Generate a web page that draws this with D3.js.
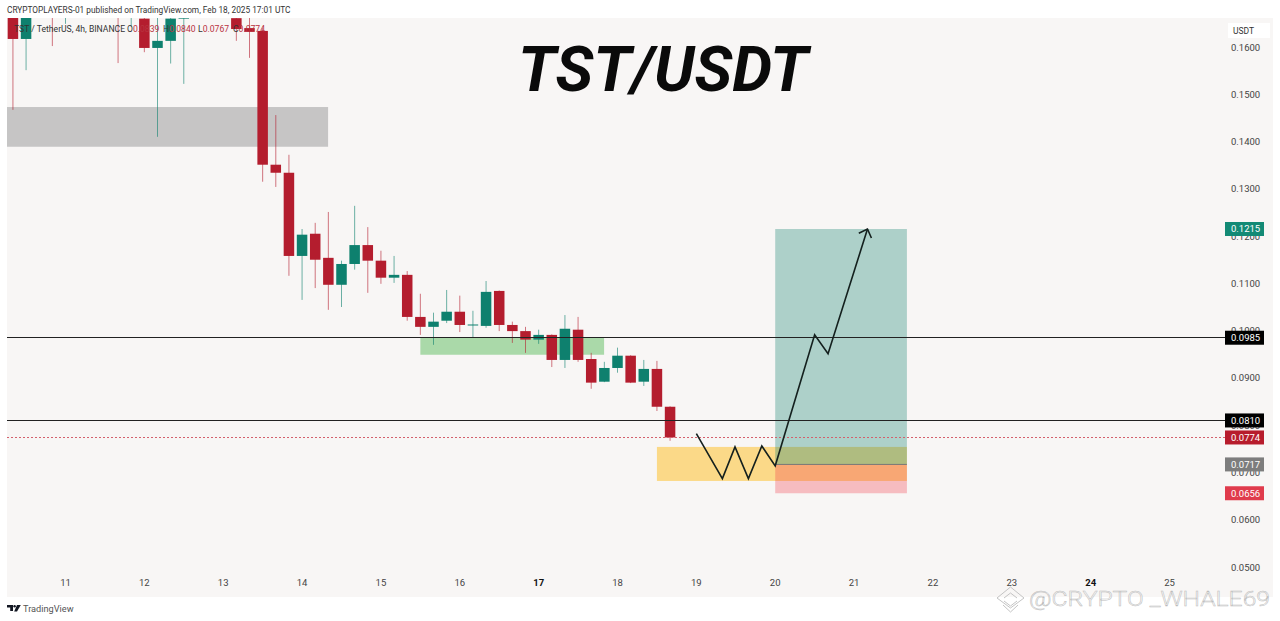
<!DOCTYPE html>
<html lang="en">
    <head>
        <meta charset="utf-8">
        <title>TST/USDT</title>
        <script type="text/javascript" src="https://d3js.org/d3.v7.min.js"></script>
        <style type="text/css">
            html, body { margin: 0; padding: 0; background: #fff; overflow: hidden; }
            text { font-family: Roboto, "Liberation Sans", sans-serif; }
        </style>
    </head>
    <body>
        <div id="chart"></div>
        <script type="text/javascript">

            // 4h candles, first candle is day 10 08:00
            // the ones above the visible pane only have rough values
            var firstCandleDay = 10 + 1/3;
            var opens  = [.1700,.1617,.1690,.1690,.1680,.1700,.1700,.1700,.1700,.1690,.1660,.1598,.1613,.1660,.1700,.1700,.1700,
                          .1661,.1640,.1634,.1351,.1334,.1158,.1205,.1154,.1097,.1141,.1181,.1148,.1112,.1118,.1029,.1008,.1021,
                          .1040,.1012,.1010,.1084,.1012,.0999,.0981,.0991,.0938,.1002,.0940,.0892,.0921,.0947,.0892,.0919,.0839];
            var closes = [.1617,.1680,.1700,.1680,.1700,.1700,.1700,.1700,.1690,.1700,.1598,.1613,.1660,.1700,.1700,.1700,.1700,
                          .1638,.1632,.1351,.1334,.1158,.1203,.1150,.1097,.1141,.1181,.1148,.1112,.1118,.1029,.1008,.1019,.1040,
                          .1012,.1013,.1082,.1012,.0999,.0981,.0991,.0938,.1004,.0938,.0890,.0921,.0947,.0890,.0919,.0839,.0774];
            var highs  = [.1720,.1700,.1720,.1700,.1710,.1720,.1720,.1720,.1720,.1710,.1680,.1670,.1680,.1700,.1720,.1720,.1720,
                          .1670,.1665,.1640,.1456,.1372,.1215,.1228,.1251,.1148,.1264,.1219,.1169,.1158,.1126,.1078,.1038,.1086,
                          .1074,.1042,.1105,.1085,.1019,.1008,.1002,.0992,.1033,.1029,.0953,.0934,.0964,.0948,.0938,.0936,.0840];
            var lows   = [.1467,.1551,.1670,.1602,.1649,.1680,.1680,.1680,.1566,.1642,.1589,.1410,.1565,.1522,.1680,.1680,.1680,
                          .1613,.1577,.1315,.1304,.1116,.1065,.1090,.1044,.1050,.1129,.1080,.1099,.1101,.1021,.0991,.0970,.1016,
                          .0997,.0985,.1006,.0999,.0974,.0953,.0972,.0923,.0921,.0934,.0877,.0891,.0911,.0889,.0883,.0830,.0767];

            var priceTicks = [.16,.15,.14,.13,.12,.11,.10,.09,.08,.07,.06,.05];
            var dayTicks = [11,12,13,14,15,16,17,18,19,20,21,22,23,24,25];
            var boldDays = [17,24];

            // drawn zones
            var grayZone = {days: [10, 14.33], prices: [.1389, .1473]};
            var greenZone = {days: [15.5, 17.83], prices: [.0949, .0985]};
            var yellowZone = {days: [18.5, 21.67], prices: [.0682, .0754]};
            var positionDays = [20, 21.67];
            var target = .1215, entry = .0717, stop = .0656;
            var levelLines = [.0985, .0810];
            var lastPrice = .0774;

            // hand drawn projected path
            var pathDays   = [19, 19.33, 19.49, 19.66, 19.83, 20, 20.5, 20.67, 21.17];
            var pathPrices = [.0782, .0687, .0754, .0687, .0756, .0714, .0991, .0951, .1215];
            var arrowDays   = [21.06, 21.17, 21.22];
            var arrowPrices = [.1206, .1215, .1196];

            // price badges on the axis
            var badges = [
                {value: .1215, fill: "#138a75", text: "#fff"},
                {value: .0985, fill: "#000", text: "#fff"},
                {value: .0810, fill: "#000", text: "#fff"},
                {value: .0774, fill: "#b71c2c", text: "#fff"},
                {value: .0717, fill: "#7d7d7d", text: "#fff"},
                {value: .0656, fill: "#e03b4c", text: "#fff"}
            ];

            var width = 1280, height = 621;
            var pane = {left: 7, right: 1227, top: 18, bottom: 597, axisRight: 1273};
            var red = "#b41d2e", green = "#0e806e";

            var svg = d3.select("#chart")
                .append("svg")
                    .attr("width", width)
                    .attr("height", height)
                    .style("display", "block");

            var x = d3.scaleLinear().domain([11, 25]).range([65.5, 1169.5]);
            var y = d3.scaleLinear().domain([.16, .05]).range([47, 567]);

            svg.append("defs").append("clipPath").attr("id", "pane")
                .append("rect")
                    .attr("x", pane.left)
                    .attr("y", pane.top)
                    .attr("width", pane.right - pane.left)
                    .attr("height", pane.bottom - pane.top);

            // pane background
            svg.append("rect")
                .attr("x", pane.left)
                .attr("y", pane.top)
                .attr("width", pane.axisRight - pane.left)
                .attr("height", pane.bottom - pane.top)
                .attr("fill", "#f8f6f5");

            var plot = svg.append("g").attr("clip-path", "url(#pane)");

            function zoneRect(days, low, high, fill, opacity) {
                plot.append("rect")
                    .attr("x", x(days[0]))
                    .attr("y", y(high))
                    .attr("width", x(days[1]) - x(days[0]))
                    .attr("height", y(low) - y(high))
                    .attr("fill", fill)
                    .attr("fill-opacity", opacity);
            }

            // legend sits under the candles
            var legend = svg.append("g").attr("font-size", 8.6);
            legend.append("text").attr("x", 14).attr("y", 32).attr("fill", "#333").text("TST / TetherUS, 4h, BINANCE");
            var legendParts = [["O", "0.0839", 127], ["H", "0.0840", 163], ["L", "0.0767", 198], ["C", "0.0774", 233]];
            legendParts.forEach(function(p) {
                var t = legend.append("text").attr("x", p[2]).attr("y", 32).attr("fill", "#333").text(p[0]);
                t.append("tspan").attr("fill", "#b8333f").text(p[1]);
            });

            zoneRect(grayZone.days, grayZone.prices[0], grayZone.prices[1], "#c6c5c5", 1);
            zoneRect(greenZone.days, greenZone.prices[0], greenZone.prices[1], "#aad9a9", 1);
            zoneRect(yellowZone.days, yellowZone.prices[0], yellowZone.prices[1], "#fbd988", 1);

            // long position box
            zoneRect(positionDays, entry, target, "#14826f", .33);
            zoneRect(positionDays, stop, entry, "#f23645", .3);
            plot.append("line")
                .attr("x1", x(positionDays[0]))
                .attr("x2", x(positionDays[1]))
                .attr("y1", y(entry))
                .attr("y2", y(entry))
                .attr("stroke", "#777")
                .attr("stroke-width", 1);

            // candles
            var candles = opens.map(function(o, i) {
                return {day: firstCandleDay + i / 6, open: o, close: closes[i], high: highs[i], low: lows[i]};
            });
            var bodyWidth = (x(1) - x(0)) / 6 * 0.8;

            var candle = plot.selectAll("g.candle")
                .data(candles)
                .enter()
                .append("g")
                    .attr("class", "candle")
                    .attr("fill", function(d) { return d.close >= d.open ? green : red; })
                    .attr("stroke", function(d) { return d.close >= d.open ? green : red; });

            candle.append("line")
                .attr("x1", function(d) { return x(d.day); })
                .attr("x2", function(d) { return x(d.day); })
                .attr("y1", function(d) { return y(d.high); })
                .attr("y2", function(d) { return y(d.low); })
                .attr("stroke-width", 1)
                .attr("stroke-opacity", .6);

            candle.append("rect")
                .attr("x", function(d) { return x(d.day) - bodyWidth / 2; })
                .attr("y", function(d) { return y(Math.max(d.open, d.close)); })
                .attr("width", bodyWidth)
                .attr("height", function(d) { return Math.max(1, Math.abs(y(d.open) - y(d.close))); })
                .attr("stroke", "none");

            // horizontal levels
            plot.selectAll("line.level")
                .data(levelLines)
                .enter()
                .append("line")
                    .attr("class", "level")
                    .attr("x1", pane.left)
                    .attr("x2", pane.right)
                    .attr("y1", function(d) { return y(d); })
                    .attr("y2", function(d) { return y(d); })
                    .attr("stroke", "#222")
                    .attr("stroke-width", 1)
                    .attr("shape-rendering", "crispEdges");

            plot.append("line")
                .attr("x1", pane.left)
                .attr("x2", pane.right)
                .attr("y1", y(lastPrice))
                .attr("y2", y(lastPrice))
                .attr("stroke", "#d4606c")
                .attr("stroke-width", 1)
                .attr("stroke-dasharray", "2 2")
                .attr("shape-rendering", "crispEdges");

            // projected path and arrow head
            var pathLine = d3.line()
                .x(function(d) { return x(d[0]); })
                .y(function(d) { return y(d[1]); });

            plot.append("path")
                .attr("d", pathLine(d3.zip(pathDays, pathPrices)))
                .attr("fill", "none")
                .attr("stroke", "#14201e")
                .attr("stroke-width", 1.6)
                .attr("stroke-linejoin", "miter");

            plot.append("path")
                .attr("d", pathLine(d3.zip(arrowDays, arrowPrices)))
                .attr("fill", "none")
                .attr("stroke", "#14201e")
                .attr("stroke-width", 1.6);

            // title
            svg.append("text")
                .attr("x", 663)
                .attr("y", 91)
                .attr("text-anchor", "middle")
                .attr("font-size", 63)
                .attr("font-weight", 700)
                .attr("font-style", "italic")
                .attr("fill", "#0a0a0a")
                .attr("textLength", 290)
                .attr("lengthAdjust", "spacingAndGlyphs")
                .text("TST/USDT");

            // published line
            svg.append("text")
                .attr("x", 7)
                .attr("y", 13)
                .attr("font-size", 8.3)
                .attr("fill", "#333")
                .text("CRYPTOPLAYERS-01 published on TradingView.com, Feb 18, 2025 17:01 UTC");

            // price axis
            var yAxis = svg.append("g")
                .attr("transform", "translate(1226,0)")
                .call(d3.axisRight(y).tickValues(priceTicks).tickSize(0).tickPadding(5).tickFormat(d3.format(".4f")));
            yAxis.select(".domain").remove();
            yAxis.selectAll("text").attr("font-size", 9.5).attr("fill", "#444").style("font-family", "Roboto, sans-serif");

            svg.append("rect")
                .attr("x", 1228)
                .attr("y", 23)
                .attr("width", 42)
                .attr("height", 15)
                .attr("fill", "#fff");
            svg.append("text")
                .attr("x", 1233)
                .attr("y", 34)
                .attr("font-size", 8.5)
                .attr("fill", "#333")
                .text("USDT");

            // badges
            var badge = svg.selectAll("g.badge")
                .data(badges)
                .enter()
                .append("g")
                    .attr("class", "badge")
                    .attr("transform", function(d) { return "translate(1225," + y(d.value) + ")"; });
            badge.append("rect")
                .attr("y", -7)
                .attr("width", 39)
                .attr("height", 14)
                .attr("fill", function(d) { return d.fill; });
            badge.append("text")
                .attr("x", 6)
                .attr("y", 3.4)
                .attr("font-size", 9.5)
                .attr("fill", function(d) { return d.text; })
                .text(function(d) { return d3.format(".4f")(d.value); });

            // day axis
            var xAxis = svg.append("g")
                .attr("transform", "translate(-0.5,575)")
                .call(d3.axisBottom(x).tickValues(dayTicks).tickSize(0).tickPadding(4).tickFormat(d3.format("d")));
            xAxis.select(".domain").remove();
            xAxis.selectAll("text")
                .attr("font-size", 9.5)
                .style("font-family", "Roboto, sans-serif")
                .attr("font-weight", function(d) { return boldDays.indexOf(d) >= 0 ? 700 : 400; })
                .attr("fill", function(d) { return boldDays.indexOf(d) >= 0 ? "#111" : "#444"; });

            // TradingView mark
            var tv = svg.append("g").attr("transform", "translate(7,605)").attr("fill", "#131722");
            tv.append("path").attr("d", "M0 0H6V6H3.2V2.6H0Z");
            tv.append("circle").attr("cx", 7.6).attr("cy", 1.2).attr("r", 1.2);
            tv.append("path").attr("d", "M10 0H13.8L10 6.5H7.2Z");
            svg.append("text")
                .attr("x", 23)
                .attr("y", 611.5)
                .attr("font-size", 9.2)
                .attr("fill", "#555")
                .text("TradingView");

            // watermark
            var wm = svg.append("g").attr("fill", "none").attr("stroke", "#c4c4c4").attr("stroke-width", 1);
            wm.append("path").attr("d", "M997 598L1010.5 587L1024 598");
            wm.append("path").attr("d", "M1004 598L1010.5 593L1017 598");
            wm.append("path").attr("d", "M997 598L1010.5 608L1024 598");
            wm.append("path").attr("d", "M1004 601L1010.5 606L1017 601");
            wm.append("path").attr("d", "M1003 605L1010.5 612L1018 605");
            svg.append("text")
                .attr("x", 1029)
                .attr("y", 606)
                .attr("font-size", 21)
                .attr("font-weight", 300)
                .attr("fill", "#fff")
                .attr("fill-opacity", .7)
                .attr("stroke", "#bcbcbc")
                .attr("stroke-width", .5)
                .attr("textLength", 241)
                .attr("lengthAdjust", "spacingAndGlyphs")
                .text("@CRYPTO _WHALE69");

        </script>
    </body>
</html>
